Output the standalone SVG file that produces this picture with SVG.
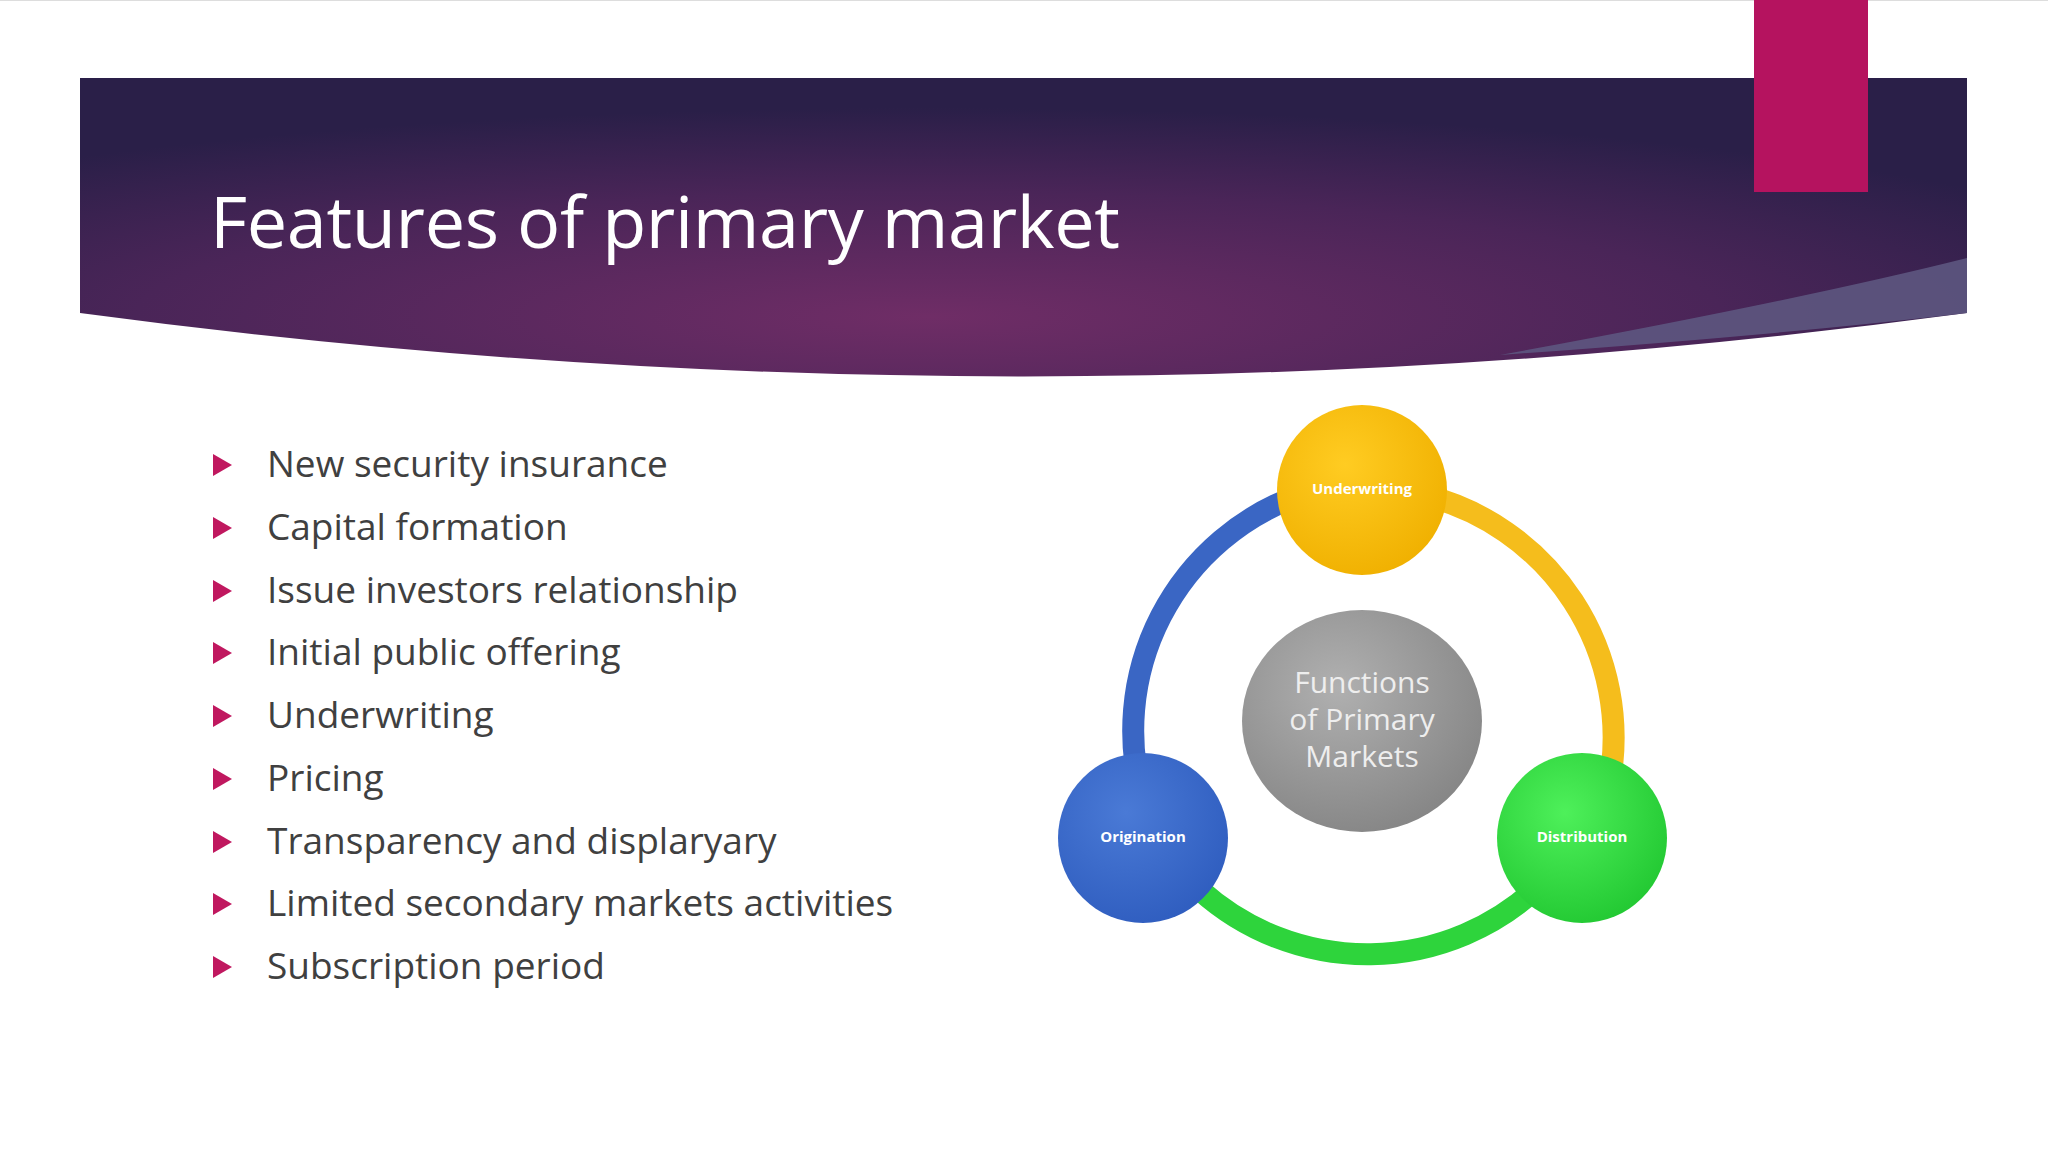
<svg xmlns="http://www.w3.org/2000/svg" width="2048" height="1152" viewBox="0 0 2048 1152">
<defs>
<radialGradient id="hdr" cx="0.45" cy="0.8" r="0.7">
<stop offset="0" stop-color="#6f2d66"/><stop offset="0.6" stop-color="#4a2558"/><stop offset="1" stop-color="#2a1f48"/>
</radialGradient>
<radialGradient id="g" cx="0.4" cy="0.35" r="0.7"><stop offset="0" stop-color="#b0b0b0"/><stop offset="1" stop-color="#858585"/></radialGradient>
<radialGradient id="y" cx="0.4" cy="0.35" r="0.7"><stop offset="0" stop-color="#ffcc22"/><stop offset="1" stop-color="#f0b000"/></radialGradient>
<radialGradient id="b" cx="0.4" cy="0.35" r="0.7"><stop offset="0" stop-color="#4a7ad6"/><stop offset="1" stop-color="#2f5dbf"/></radialGradient>
<radialGradient id="gr" cx="0.4" cy="0.35" r="0.7"><stop offset="0" stop-color="#4ef05a"/><stop offset="1" stop-color="#22c832"/></radialGradient>
</defs>
<style>
.b{font-family:"Open Sans","Noto Sans",sans-serif;font-size:37px;fill:#404040}
.t{fill:#c0185f}
.n{font-family:"Open Sans",sans-serif;font-size:15px;fill:#fff;text-anchor:middle;font-weight:bold}
.arc{fill:none;stroke-width:22;stroke-linecap:round}
</style>
<rect width="2048" height="1152" fill="#fff"/>
<line x1="0" y1="0.5" x2="2048" y2="0.5" stroke="#ddd"/>
<g id="header">
<path d="M80 78 H1967 V313 Q1024 440 80 313 Z" fill="url(#hdr)"/>
<path d="M1967 258 Q1800 300 1500 355 Q1780 335 1967 313 Z" fill="#5d5680" opacity="0.9"/>
<rect x="1754" y="0" width="114" height="192" fill="#b5135f"/>
<text x="210" y="248" font-family="Open Sans,sans-serif" font-size="72" fill="#fff" textLength="910">Features of primary market</text>
</g>
<g id="bullets">
<g class="t">
<polygon points="213,454 232,465 213,476"/><polygon points="213,517 232,528 213,539"/><polygon points="213,580 232,591 213,602"/>
<polygon points="213,642 232,653 213,664"/><polygon points="213,705 232,716 213,727"/><polygon points="213,768 232,779 213,790"/>
<polygon points="213,831 232,842 213,853"/><polygon points="213,893 232,904 213,915"/><polygon points="213,956 232,967 213,978"/>
</g>
<text class="b" x="267" y="477">New security insurance</text>
<text class="b" x="267" y="540">Capital formation</text>
<text class="b" x="267" y="603">Issue investors relationship</text>
<text class="b" x="267" y="665">Initial public offering</text>
<text class="b" x="267" y="728">Underwriting</text>
<text class="b" x="267" y="791">Pricing</text>
<text class="b" x="267" y="854">Transparency and displaryary</text>
<text class="b" x="267" y="916">Limited secondary markets activities</text>
<text class="b" x="267" y="979">Subscription period</text>
</g>
<g id="connectors">
<path class="arc" stroke="#3a66c4" d="M1143 800 A250 250 0 0 1 1300 495"/>
<path class="arc" stroke="#f5bd1c" d="M1424 495 A250 250 0 0 1 1610 780"/>
<path class="arc" stroke="#2ed43c" d="M1200 890 A250 250 0 0 0 1540 885"/>
</g>
<g id="center"><ellipse cx="1362" cy="721" rx="120" ry="111" fill="url(#g)"/>
<text x="1362" y="693" font-family="Open Sans,sans-serif" font-size="30" fill="#eee" text-anchor="middle">Functions</text>
<text x="1362" y="730" font-family="Open Sans,sans-serif" font-size="30" fill="#eee" text-anchor="middle">of Primary</text>
<text x="1362" y="767" font-family="Open Sans,sans-serif" font-size="30" fill="#eee" text-anchor="middle">Markets</text></g>
<g id="underwriting"><circle cx="1362" cy="490" r="85" fill="url(#y)"/><text class="n" x="1362" y="494">Underwriting</text></g>
<g id="origination"><circle cx="1143" cy="838" r="85" fill="url(#b)"/><text class="n" x="1143" y="842">Origination</text></g>
<g id="distribution"><circle cx="1582" cy="838" r="85" fill="url(#gr)"/><text class="n" x="1582" y="842">Distribution</text></g>
</svg>
